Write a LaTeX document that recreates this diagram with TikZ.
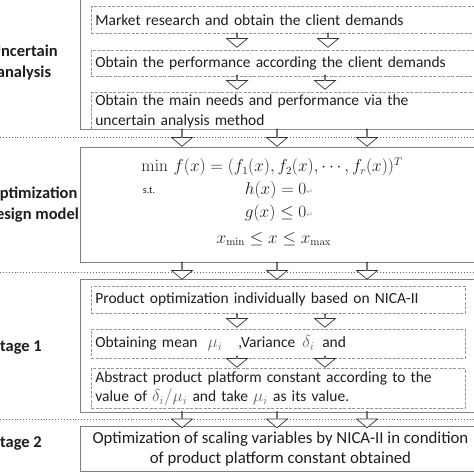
\documentclass[tikz,border=0pt]{standalone}
\usepackage[no-math]{fontspec}
\setmainfont{Carlito}
\newfontfamily\symbolfont{DejaVu Sans}
\usetikzlibrary{positioning}
\usetikzlibrary{shapes.arrows}
\definecolor{framegray}{RGB}{128,128,128}
\definecolor{dashgray}{RGB}{150,150,150}
\definecolor{sepgray}{RGB}{100,100,100}
\definecolor{inkblack}{RGB}{30,30,30}
\newcommand{\retmark}{{\symbolfont\color{black!35}\fontsize{8}{8}\selectfont ↵}}
\newcommand{\graymath}[1]{{\color{black!60}\fontsize{17}{17}\selectfont$#1$}}

\tikzset{
  outerbox/.style={draw=framegray, line width=1pt, anchor=north west, inner sep=0pt, minimum width=400pt},
  stepbox/.style={draw=dashgray, dash pattern=on 3pt off 1.5pt, line width=0.7pt, anchor=north west,
    inner xsep=4pt, inner ysep=1pt, align=left, text=inkblack, font=\fontsize{15.5}{19.5}\selectfont, text width=#1},
  stagelabel/.style={font=\bfseries\fontsize{16.5}{21}\selectfont, align=center, text=inkblack},
  hollowdown/.style={shape=single arrow, draw=black!80, fill=white, line width=0.7pt, rotate=-90, inner sep=0pt,
    minimum width=21pt, single arrow head extend=5.5pt, single arrow tip angle=100, minimum height=#1},
  sepline/.style={draw=sepgray, dotted, line width=0.9pt},
  mathline/.style={text=inkblack, font=\fontsize{16}{18}\selectfont}
}

\begin{document}
\begin{tikzpicture}[x=1pt, y=-1pt]
  \useasboundingbox (0,0) rectangle (474,474);
  \clip (0,0) rectangle (474,474);

  % separators
  \draw[sepline] (0,137) -- (474,137);
  \draw[sepline] (0,272) -- (474,272);
  \draw[sepline] (0,419) -- (474,419);

  % stage labels
  \node[stagelabel] (lbl-unc) at (24,63) {Uncertain\\analysis};
  \node[stagelabel] (lbl-opt) at (33,205) {Optimization\\design model};
  \node[stagelabel] (lbl-s1) at (17,347) {Stage 1};
  \node[stagelabel] (lbl-s2) at (17,443) {Stage 2};

  % uncertain analysis
  \node[outerbox, minimum height=132pt] (unc) at (80,-3) {};
  \node[stepbox=400pt, minimum height=27pt] (a1) at (91,6) {Market research and obtain the client demands};
  \node[stepbox=400pt, minimum height=26pt, below=16pt of a1.south west, anchor=north west] (a2) {Obtain the performance according the client demands};
  \node[stepbox=400pt, minimum height=37pt, below=16pt of a2.south west, anchor=north west] (a3) {Obtain the main needs and performance via the\\uncertain analysis method};
  \foreach \x in {237,328} \node[hollowdown=14pt] (arr-a1-\x) at (\x,40) {};
  \foreach \x in {237,325} \node[hollowdown=14pt] (arr-a2-\x) at (\x,82) {};

  % optimization design model
  \node[outerbox, minimum height=115pt] (opt) at (80,147) {};
  \node[mathline] (obj) at (272,167) {$\min\, f(x) = (f_1(x), f_2(x), \cdots, f_r(x))^T$};
  \node[text=inkblack, font=\fontsize{10}{12}\selectfont] (st) at (149,190) {s.t.};
  \node[mathline] (hcon) at (279,190) {$h(x) = 0$\retmark};
  \node[mathline] (gcon) at (279,213) {$g(x) \le 0$\retmark};
  \node[mathline] (bounds) at (274,239) {$x_{\min} \le x \le x_{\max}$};

  % stage 1
  \node[outerbox, minimum height=133pt] (stage1) at (80,279) {};
  \node[stepbox=366pt, minimum height=27pt] (c1) at (91,286) {Product optimization individually based on NICA-II};
  \node[stepbox=366pt, minimum height=29pt, below=15pt of c1.south west, anchor=north west] (c2)
    {Obtaining mean\hspace{10pt}\graymath{\mu_i}\hspace{16pt},Variance\hspace{7pt}\graymath{\delta_i}\hspace{8pt}and};
  \node[stepbox=366pt, minimum height=40pt, below=10pt of c2.south west, anchor=north west] (c3)
    {Abstract product platform constant according to the\\value of \graymath{\delta_i/\mu_i} and take \graymath{\mu_i} as its value.};
  \foreach \x in {237,325} \node[hollowdown=13pt] (arr-c1-\x) at (\x,320.5) {};
  \foreach \x in {237,325} \node[hollowdown=11pt] (arr-c2-\x) at (\x,361.5) {};

  % stage 2
  \node[outerbox, minimum height=45pt, align=center, text=inkblack, font=\fontsize{16.8}{20}\selectfont] (stage2) at (80,426)
    {Optimization of scaling variables by NICA-II in condition\\of product platform constant obtained};

  % arrows between stages
  \foreach \x in {182,277,367} {
    \node[hollowdown=17pt] (arr-s1-\x) at (\x,137.5) {};
    \node[hollowdown=17pt] (arr-s2-\x) at (\x,270.5) {};
    \node[hollowdown=16pt] (arr-s3-\x) at (\x,419.5) {};
  }
\end{tikzpicture}
\end{document}
